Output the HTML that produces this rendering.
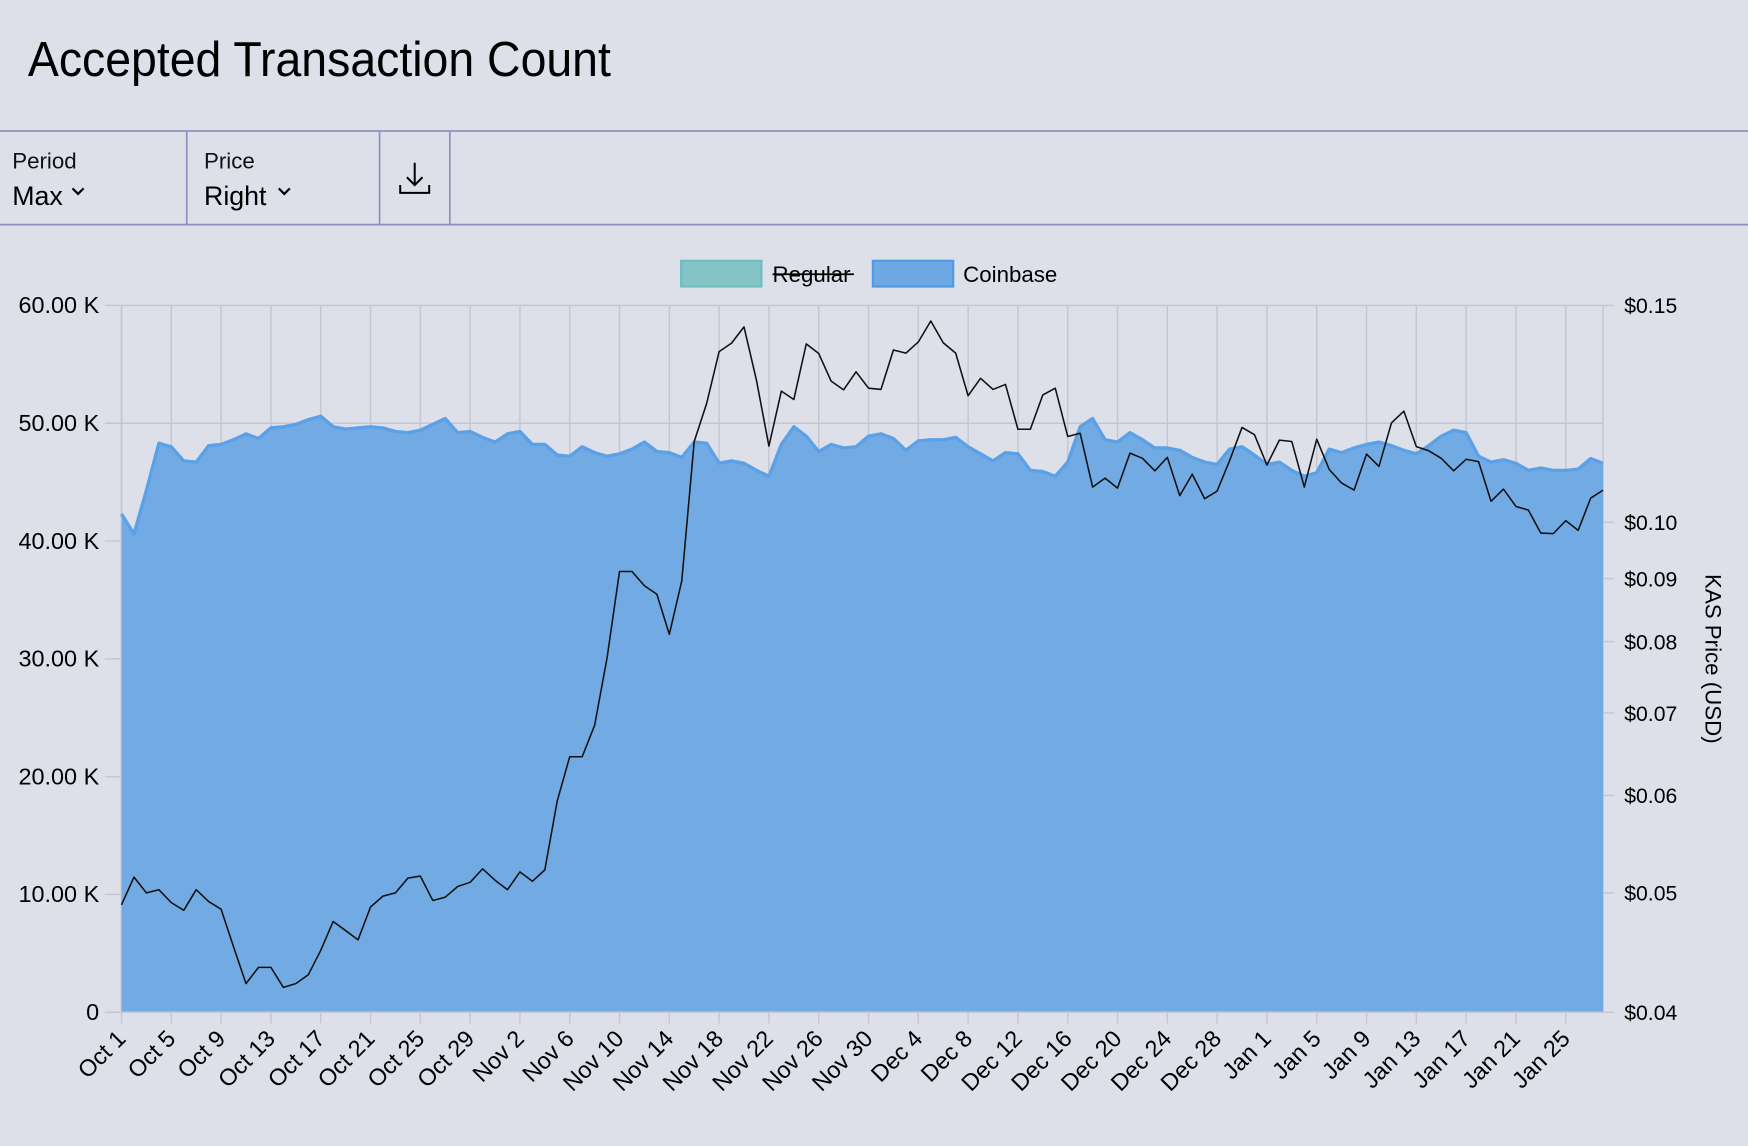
<!DOCTYPE html>
<html><head><meta charset="utf-8"><style>
html,body{margin:0;padding:0;background:#dddfe9;}
svg{display:block;font-family:"Liberation Sans",sans-serif;}
</style></head><body>
<svg id="chart" width="1748" height="1146" viewBox="0 0 1568 1028" preserveAspectRatio="none" xmlns="http://www.w3.org/2000/svg">
<rect x="0" y="0" width="1568" height="1028" fill="#dddfe9"/>
<text x="25" y="68" font-size="44" fill="#000" textLength="523" lengthAdjust="spacingAndGlyphs">Accepted Transaction Count</text>
<line x1="0" y1="117.5" x2="1568" y2="117.5" stroke="#8c90bf" stroke-width="1.5"/>
<line x1="0" y1="201.5" x2="1568" y2="201.5" stroke="#8c90bf" stroke-width="1.5"/>
<line x1="167.5" y1="117" x2="167.5" y2="202" stroke="#8c90bf" stroke-width="1.5"/>
<line x1="340.5" y1="117" x2="340.5" y2="202" stroke="#8c90bf" stroke-width="1.5"/>
<line x1="403.5" y1="117" x2="403.5" y2="202" stroke="#8c90bf" stroke-width="1.5"/>
<g>
<text x="11" y="151" font-size="20" fill="#111">Period</text>
<text x="11" y="184" font-size="24" fill="#000">Max</text>
<path d="M65 169 l5 5 l5 -5" fill="none" stroke="#000" stroke-width="2"/>
</g>
<g>
<text x="183" y="151" font-size="20" fill="#111">Price</text>
<text x="183" y="184" font-size="24" fill="#000">Right</text>
<path d="M250 169 l5 5 l5 -5" fill="none" stroke="#000" stroke-width="2"/>
</g>
<g fill="none" stroke="#000" stroke-width="1.8">
<path d="M372 146 v20 M365 159 l7 7 l7 -7 M359 166 v7 h26 v-7"/>
</g>
<g>
<rect x="611" y="234" width="72" height="23" fill="#84c4c6" stroke="#6cbfc2" stroke-width="2"/>
<text x="693" y="253" font-size="20" fill="#000">Regular</text>
<line x1="693" y1="246" x2="766" y2="246" stroke="#000" stroke-width="1.5"/>
</g>
<g>
<rect x="783" y="234" width="72" height="23" fill="#6fa9e3" stroke="#4d9be6" stroke-width="2"/>
<text x="864" y="253" font-size="20" fill="#000">Coinbase</text>
</g>
<g id="grid"></g>
<g id="marks"></g>
<g id="axes"></g>
</svg>
<script>
const categories = Array.from({length:120},(_,i)=>i);
const coinbaseK = [42.3,40.6,44.3,48.3,48.0,46.8,46.7,48.1,48.2,48.6,49.1,48.7,49.6,49.7,49.9,50.3,50.6,49.7,49.5,49.6,49.7,49.6,49.3,49.2,49.4,49.9,50.4,49.2,49.3,48.8,48.4,49.1,49.3,48.2,48.2,47.3,47.2,48.0,47.5,47.2,47.4,47.8,48.4,47.6,47.5,47.1,48.4,48.3,46.6,46.8,46.6,46.0,45.5,48.2,49.7,48.9,47.6,48.2,47.9,48.0,48.9,49.1,48.7,47.7,48.5,48.6,48.6,48.8,48.0,47.4,46.8,47.5,47.4,46.0,45.9,45.5,46.7,49.7,50.4,48.6,48.4,49.2,48.6,47.9,47.9,47.7,47.1,46.7,46.5,47.8,48.0,47.3,46.5,46.7,46.0,45.5,45.8,47.8,47.5,47.9,48.2,48.4,48.1,47.7,47.4,48.1,48.9,49.4,49.2,47.2,46.7,46.9,46.6,46.0,46.2,46.0,46.0,46.1,47.0,46.6];
const priceUSD = [.0489,.0515,.0500,.0503,.0491,.0484,.0503,.0492,.0485,.0452,.0422,.0435,.0435,.0419,.0422,.0429,.0449,.0474,.0466,.0458,.0487,.0497,.0500,.0514,.0516,.0493,.0496,.0506,.0510,.0523,.0512,.0503,.0520,.0511,.0522,.0594,.0645,.0645,.0684,.0776,.0912,.0912,.0888,.0874,.0811,.0896,.1163,.1249,.1376,.1398,.1441,.1304,.1153,.1278,.1258,.1396,.1371,.1302,.1281,.1325,.1285,.1282,.1380,.1372,.1401,.1457,.1399,.1372,.1267,.1309,.1282,.1294,.1190,.1190,.1269,.1285,.1174,.1181,.1068,.1086,.1066,.1138,.1127,.1101,.1129,.1051,.1094,.1045,.1060,.1122,.1194,.1178,.1113,.1166,.1163,.1068,.1168,.1104,.1076,.1062,.1136,.1110,.1204,.1231,.1152,.1143,.1127,.1101,.1125,.1120,.1040,.1064,.1030,.1023,.0980,.0979,.1003,.0985,.1046,.1062];
const xTickLabels = ["Oct 1","Oct 5","Oct 9","Oct 13","Oct 17","Oct 21","Oct 25","Oct 29","Nov 2","Nov 6","Nov 10","Nov 14","Nov 18","Nov 22","Nov 26","Nov 30","Dec 4","Dec 8","Dec 12","Dec 16","Dec 20","Dec 24","Dec 28","Jan 1","Jan 5","Jan 9","Jan 13","Jan 17","Jan 21","Jan 25"];
const leftTicks = [0,10,20,30,40,50,60];
const leftTickLabels = ["0","10.00 K","20.00 K","30.00 K","40.00 K","50.00 K","60.00 K"];
const rightTicks = [0.04,0.05,0.06,0.07,0.08,0.09,0.10,0.15];
const rightTickLabels = ["$0.04","$0.05","$0.06","$0.07","$0.08","$0.09","$0.10","$0.15"];

const X0=109, X1=1438, Y0=908, Y1=274;
const NS="http://www.w3.org/2000/svg";
const xS = i => X0 + (X1-X0)*i/(categories.length-1);
const yL = v => Y0 - (Y0-Y1)*v/60;
const yR = p => Y0 - (Y0-Y1)*Math.log(p/0.04)/Math.log(0.15/0.04);
function mk(tag, attrs, parent, text){const e=document.createElementNS(NS,tag);for(const k in attrs)e.setAttribute(k,attrs[k]);if(text!==undefined)e.textContent=text;parent.appendChild(e);return e;}
const gridG=document.getElementById('grid'), marksG=document.getElementById('marks'), axesG=document.getElementById('axes');

leftTicks.forEach((v,k)=>{
  const l=mk('line',{x1:94,x2:X1,y1:yL(v),y2:yL(v),stroke:'#c5c6d1','stroke-width':1.3},gridG);
  
  
  const t=mk('text',{x:89,y:yL(v)+7,'font-size':21,'text-anchor':'end',fill:'#000'},axesG,leftTickLabels[k]);
  
  
});
xTickLabels.forEach((lab,k)=>{
  const x=xS(k*4);
  const l=mk('line',{x1:x,x2:x,y1:Y1,y2:918,stroke:'#c5c6d1','stroke-width':1.3},gridG);
  
  
  const t=mk('text',{x:0,y:0,'font-size':21,'text-anchor':'end',fill:'#000',transform:`translate(${x+5},${933}) rotate(-45)`},axesG,lab);
  
  
});
mk('line',{x1:X1,x2:X1,y1:Y1,y2:Y0,stroke:'#c5c6d1','stroke-width':1.3},gridG);
mk('line',{x1:X0,x2:X0,y1:Y1,y2:Y0,stroke:'#c5c6d1','stroke-width':1.5},gridG);

let d=`M${xS(0)},${Y0}`;
coinbaseK.forEach((v,i)=>{d+=` L${xS(i)},${yL(v)}`;});
d+=` L${xS(coinbaseK.length-1)},${Y0} Z`;
const areaPath=mk('path',{d:d,fill:'#6ea9e3','fill-opacity':0.97},marksG);


const coinbaseLine=mk('polyline',{points:coinbaseK.map((v,i)=>`${xS(i)},${yL(v)}`).join(' '),fill:'none',stroke:'#5aa1e8','stroke-width':3,'stroke-linejoin':'round'},marksG);


const priceLine=mk('polyline',{points:priceUSD.map((p,i)=>`${xS(i)},${yR(p)}`).join(' '),fill:'none',stroke:'#111','stroke-width':1.4,'stroke-linejoin':'round'},marksG);


mk('line',{x1:X0,x2:X1,y1:Y0,y2:Y0,stroke:'#c5c6d1','stroke-width':1.5},marksG);

rightTicks.forEach((p,k)=>{
  mk('line',{x1:X1,x2:1448,y1:yR(p),y2:yR(p),stroke:'#c5c6d1','stroke-width':1.3},axesG);
  const t=mk('text',{x:1457,y:yR(p)+7,'font-size':19,fill:'#000'},axesG,rightTickLabels[k]);
  
  
});
const axisTitle=mk('text',{x:0,y:0,'font-size':20,'text-anchor':'middle',fill:'#000',transform:'translate(1530,591) rotate(90)'},axesG,'KAS Price (USD)');


</script>
</body></html>
